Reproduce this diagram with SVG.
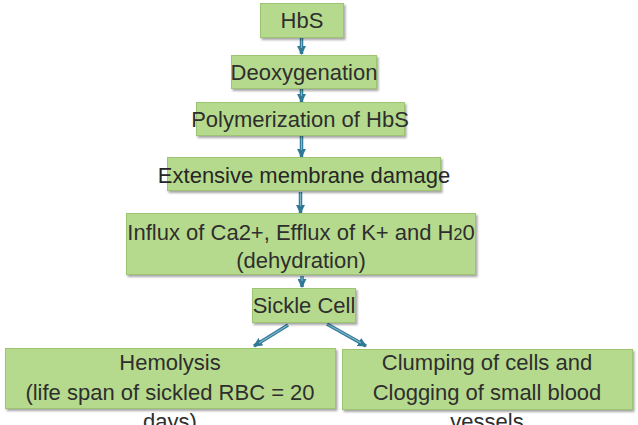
<svg xmlns="http://www.w3.org/2000/svg" width="638" height="425" viewBox="0 0 638 425">
  <defs>
    <filter id="sh" x="-10%" y="-20%" width="120%" height="150%">
      <feDropShadow dx="1.5" dy="2" stdDeviation="1.2" flood-color="#000" flood-opacity="0.35"/>
    </filter>
    <marker id="ah2" viewBox="0 0 10 10" refX="9" refY="5" markerWidth="9" markerHeight="9" orient="auto" markerUnits="userSpaceOnUse">
      <path d="M0,0 L10,5 L0,10 z" fill="#2f7896"/>
    </marker>
  </defs>
  <style>
    .box { fill: #b6da8d; stroke: #9cc473; stroke-width: 1; filter: url(#sh); }
    .t { font-family: "Liberation Sans", Arial, sans-serif; font-size: 22px; fill: #2e2e2e; text-anchor: middle; }
    .sh { fill: none; stroke: #2f7896; stroke-width: 3.5; }
    .shi { fill: none; stroke: #7fb6cc; stroke-width: 1.2; }
  </style>
  <rect width="638" height="425" fill="#ffffff"/>

  <g id="connectors">
    <line class="sh" x1="301.5" y1="38" x2="301.5" y2="54" marker-end="url(#ah2)"/>
    <line class="shi" x1="301.5" y1="38" x2="301.5" y2="48"/>
    <line class="sh" x1="301.5" y1="89" x2="301.5" y2="102" marker-end="url(#ah2)"/>
    <line class="shi" x1="301.5" y1="89" x2="301.5" y2="96"/>
    <line class="sh" x1="301.5" y1="136" x2="301.5" y2="157" marker-end="url(#ah2)"/>
    <line class="shi" x1="301.5" y1="136" x2="301.5" y2="150"/>
    <line class="sh" x1="300.5" y1="192" x2="300.5" y2="213" marker-end="url(#ah2)"/>
    <line class="shi" x1="300.5" y1="192" x2="300.5" y2="206"/>
    <line class="sh" x1="302" y1="276" x2="302" y2="287" marker-end="url(#ah2)"/>
    <line class="shi" x1="302" y1="276" x2="302" y2="281"/>
    <line class="sh" x1="288" y1="325" x2="254" y2="346" marker-end="url(#ah2)"/>
    <line class="shi" x1="288" y1="325" x2="259" y2="343"/>
    <line class="sh" x1="327" y1="324" x2="366" y2="346" marker-end="url(#ah2)"/>
    <line class="shi" x1="327" y1="324" x2="361" y2="343"/>
  </g>

  <g id="hbs">
    <rect class="box" x="260.5" y="3.5" width="83" height="34"/>
    <text class="t" x="302" y="28">HbS</text>
  </g>
  <g id="deoxygenation">
    <rect class="box" x="231.5" y="55.5" width="145" height="33"/>
    <text class="t" x="304" y="80">Deoxygenation</text>
  </g>
  <g id="polymerization">
    <rect class="box" x="196.5" y="102.5" width="208" height="33"/>
    <text class="t" x="300" y="127">Polymerization of HbS</text>
  </g>
  <g id="membrane">
    <rect class="box" x="167.5" y="157.5" width="273" height="33"/>
    <text class="t" x="304" y="183" style="fill:#262626">Extensive membrane damage</text>
  </g>
  <g id="influx">
    <rect class="box" x="126.5" y="213.5" width="349" height="61"/>
    <text class="t" x="301" y="240">Influx of Ca2+, Efflux of K+ and H<tspan font-size="16">2</tspan>0</text>
    <text class="t" x="301" y="268">(dehydration)</text>
  </g>
  <g id="sickle">
    <rect class="box" x="252.5" y="288.5" width="103" height="34"/>
    <text class="t" x="304" y="313">Sickle Cell</text>
  </g>
  <g id="hemolysis">
    <rect class="box" x="5.5" y="348.5" width="330" height="60"/>
    <text class="t" x="170" y="370">Hemolysis</text>
    <text class="t" x="170" y="400">(life span of sickled RBC = 20</text>
    <text class="t" x="170" y="429">days)</text>
  </g>
  <g id="clumping">
    <rect class="box" x="342.5" y="349.5" width="290" height="60"/>
    <text class="t" x="487" y="370">Clumping of cells and</text>
    <text class="t" x="487" y="400">Clogging of small blood</text>
    <text class="t" x="487" y="429">vessels</text>
  </g>
</svg>
